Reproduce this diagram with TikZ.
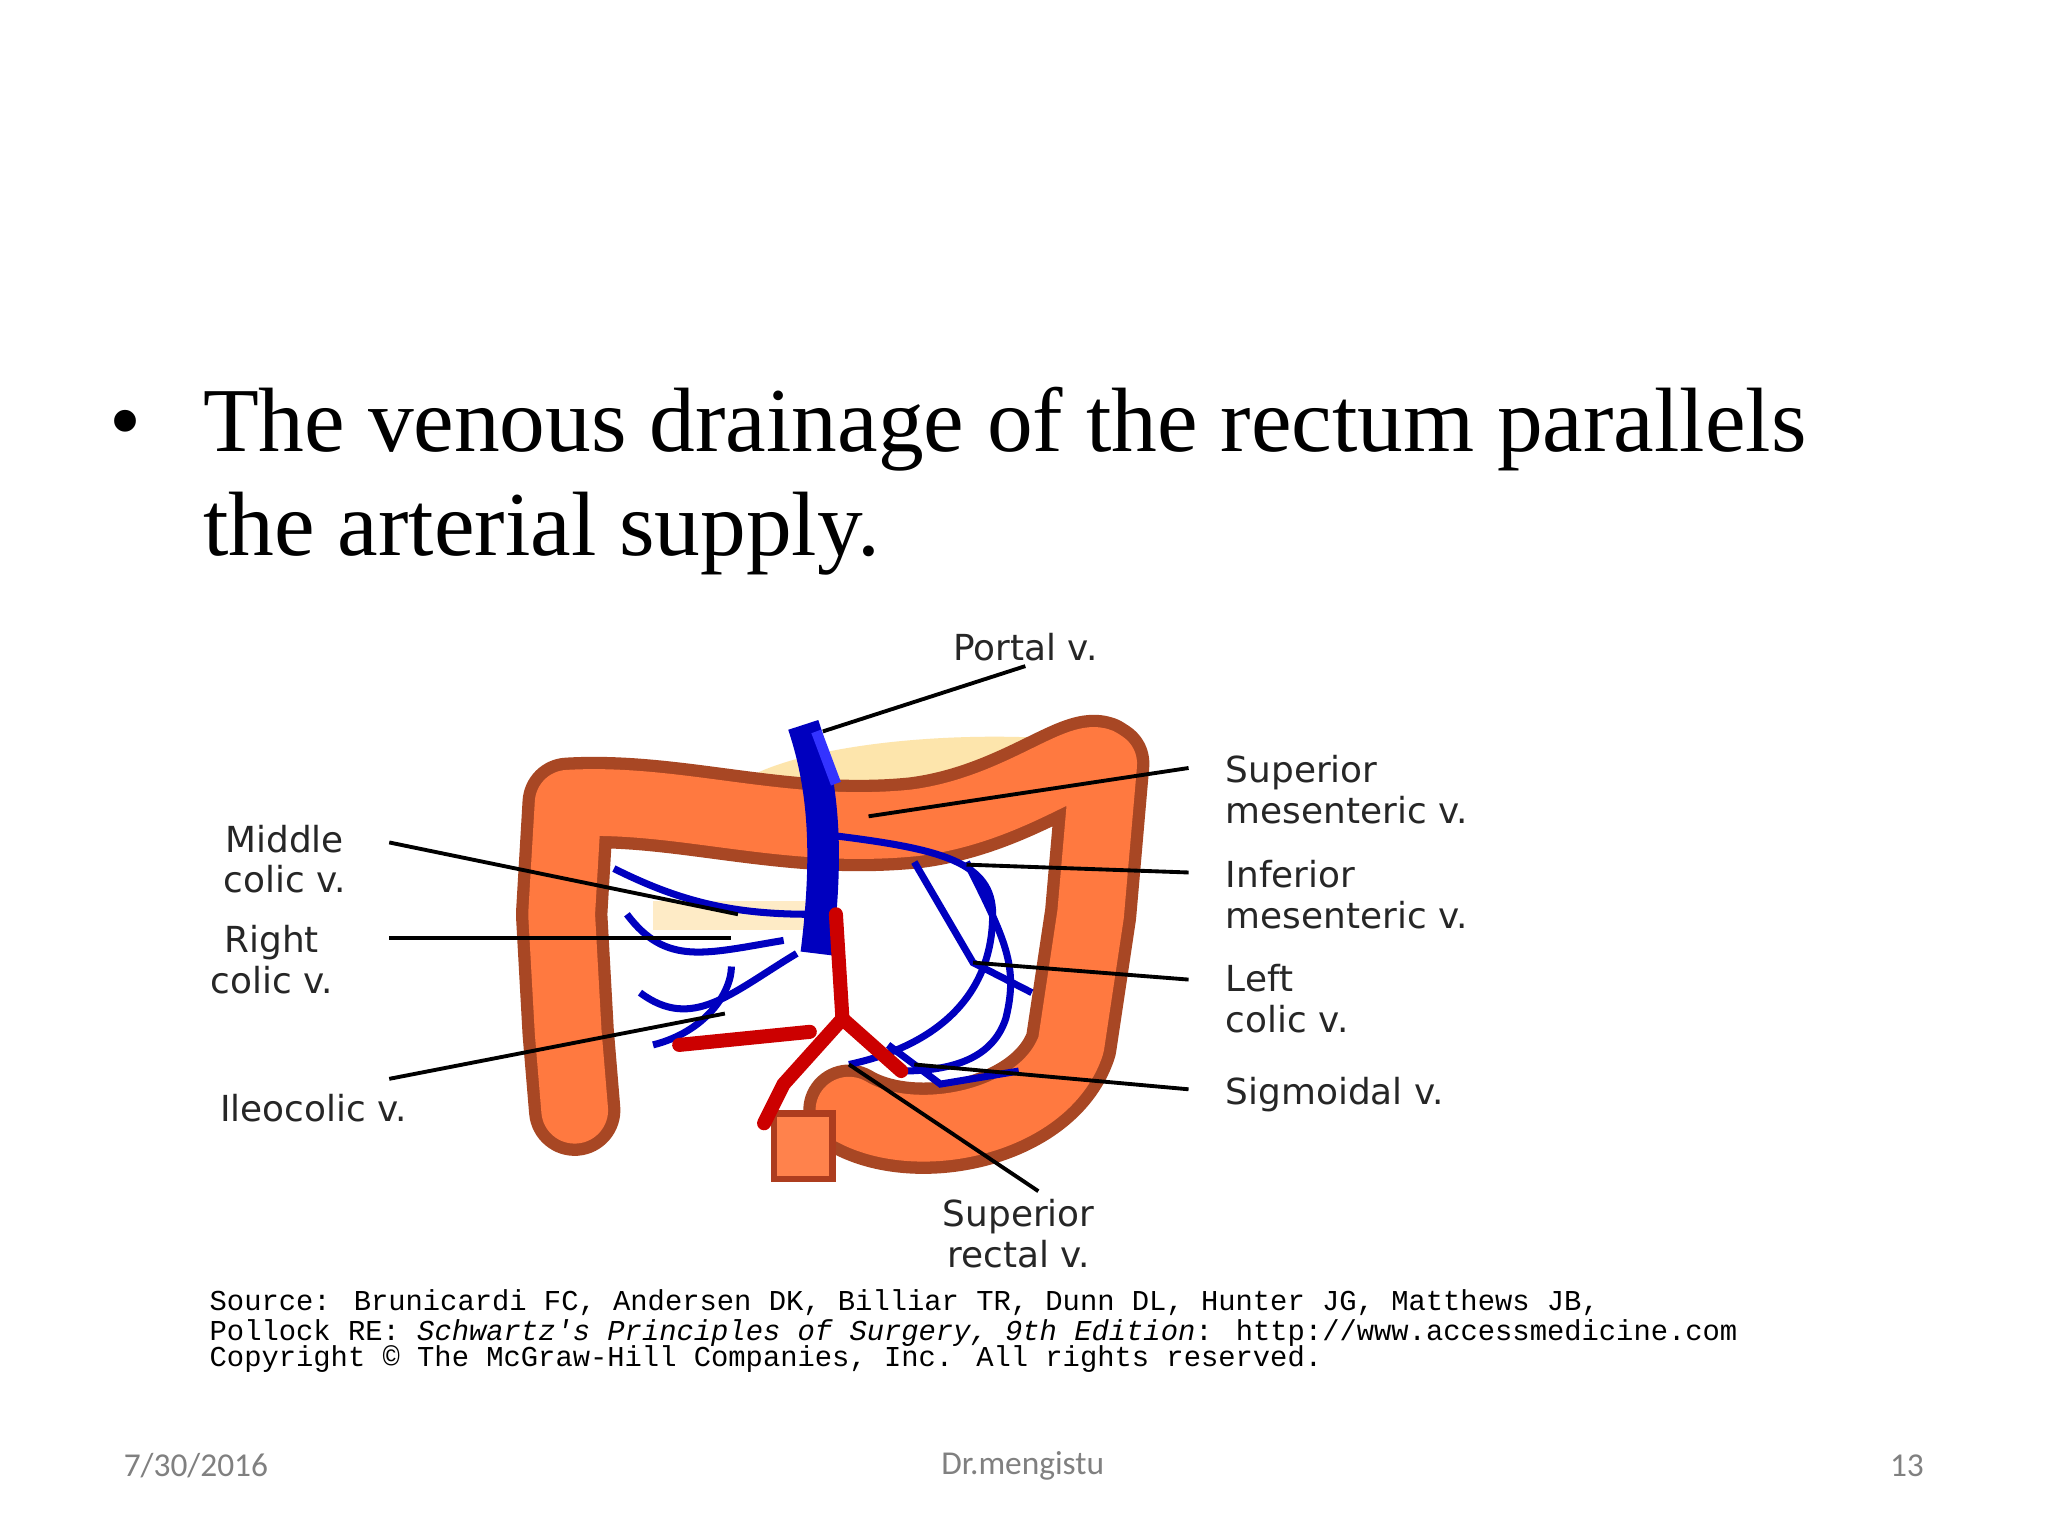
\documentclass[tikz,border=0pt]{standalone}
\usepackage{fontspec}
\setmainfont{Liberation Serif}
\newfontfamily\lab{DejaVu Sans}
\newfontfamily\srcf{Liberation Mono}
\newfontfamily\foot{Carlito}
\begin{document}
\begin{tikzpicture}[x=0.01306cm,y=-0.01306cm,
  lbl/.style={font=\lab\fontsize{10.2}{11.6}\selectfont,text=black!85,align=left,inner sep=0,anchor=north west},
  lead/.style={draw=black,line width=1.1pt},
  colon/.style={draw=brown!70!red!80!black,line width=26pt,line cap=round,line join=round},
  coloninner/.style={draw=orange!60!red!75!white,line width=19pt,line cap=round,line join=round},
  vein/.style={draw=blue!75!black,line width=2pt},
  art/.style={draw=red!80!black,line width=4pt,line cap=round}]
\useasboundingbox[fill=white] (0,0) rectangle (1568,1176);
% title
\node[anchor=north west,inner sep=0,align=left,font=\fontsize{26}{29.5}\selectfont] (title) at (155,296)
 {\llap{\textbullet\hspace{0.62cm}}The venous drainage of the rectum parallels\\the arterial supply.};
% pancreas
\fill[yellow!40!orange!30] (565,600) .. controls (600,575) and (700,560) .. (800,565) -- (800,600) .. controls (700,610) and (620,630) .. (570,640) -- cycle;
\fill[yellow!30!orange!20] (500,690) rectangle (640,712);
% colon
\draw[colon] (440,850) -- (435,790) -- (430,700) -- (435,615) .. controls (520,610) and (600,640) .. (700,630) .. controls (780,620) and (830,570) .. (845,585) -- (835,700) -- (820,800) .. controls (800,860) and (700,880) .. (650,850);
\draw[coloninner] (440,850) -- (435,790) -- (430,700) -- (435,615) .. controls (520,610) and (600,640) .. (700,630) .. controls (780,620) and (830,570) .. (845,585) -- (835,700) -- (820,800) .. controls (800,860) and (700,880) .. (650,850);
\fill[brown!60!red!80!black] (590,850) rectangle (640,905);
\fill[orange!60!red!70] (595,855) rectangle (635,900);
% veins
\draw[blue!75!black,line width=9pt] (615,555) .. controls (630,600) and (635,650) .. (625,730);
\draw[blue!80!white,line width=3pt] (625,560) -- (640,600);
\draw[vein] (470,665) .. controls (520,690) and (560,700) .. (620,700);
\draw[vein] (480,700) .. controls (510,740) and (540,730) .. (600,720);
\draw[vein] (490,760) .. controls (530,790) and (560,760) .. (610,730);
\draw[vein] (500,800) .. controls (540,790) and (560,760) .. (560,740);
\draw[vein] (640,640) .. controls (720,650) and (760,660) .. (760,700) .. controls (760,760) and (720,800) .. (650,815);
\draw[vein] (740,660) .. controls (770,720) and (780,740) .. (770,780) .. controls (760,810) and (730,820) .. (690,820);
\draw[vein] (700,660) -- (745,737) -- (790,760);
\draw[vein] (680,800) -- (720,830) -- (780,820);
% arteries
\draw[art] (640,700) -- (645,780) -- (600,830) -- (585,860);
\draw[art] (645,780) -- (690,820);
\draw[art] (620,790) -- (520,800);
% labels
\node[lbl,anchor=north] (portal) at (785,484) {Portal v.};
\node[lbl] (smv) at (938,578) {Superior\\mesenteric v.};
\node[lbl] (imv) at (938,658) {Inferior\\mesenteric v.};
\node[lbl] (lcv) at (938,738) {Left\\colic v.};
\node[lbl] (sig) at (938,824) {Sigmoidal v.};
\node[lbl,align=center,anchor=north] (srv) at (780,918) {Superior\\rectal v.};
\node[lbl,align=center,anchor=north] (mcv) at (218,631) {Middle\\colic v.};
\node[lbl,align=center,anchor=north] (rcv) at (208,708) {Right\\colic v.};
\node[lbl] (icv) at (168,837) {Ileocolic v.};
\coordinate (pe) at (630,560);
\coordinate (se) at (665,625);
\coordinate (ie) at (740,662);
\coordinate (le) at (745,737);
\coordinate (ge) at (700,815);
\coordinate (re) at (650,815);
\coordinate (me) at (565,700);
\coordinate (rce) at (560,718);
\coordinate (ice) at (555,776);
\draw[lead] (785,510) -- (pe);
\draw[lead] (910,588) -- (se);
\draw[lead] (910,668) -- (ie);
\draw[lead] (910,750) -- (le);
\draw[lead] (910,834) -- (ge);
\draw[lead] (795,912) -- (re);
\draw[lead] (298,645) -- (me);
\draw[lead] (298,718) -- (rce);
\draw[lead] (298,826) -- (ice);
% source
\node[anchor=north west,inner sep=0,align=left,font=\srcf\fontsize{8.2}{7.2}\selectfont] (src) at (160,987)
 {Source: Brunicardi FC, Andersen DK, Billiar TR, Dunn DL, Hunter JG, Matthews JB,\\
 Pollock RE: \textit{Schwartz's Principles of Surgery, 9th Edition}: http://www.accessmedicine.com};
\node[anchor=north west,inner sep=0,font=\srcf\fontsize{8.2}{8.4}\selectfont] (copy) at (160,1030)
 {Copyright \textcopyright{} The McGraw-Hill Companies, Inc. All rights reserved.};
% footer
\node[font=\foot\fontsize{9.5}{11}\selectfont,text=gray] (date) at (150,1122) {7/30/2016};
\node[font=\foot\fontsize{9.5}{11}\selectfont,text=gray] (auth) at (783,1122) {Dr.mengistu};
\node[font=\foot\fontsize{9.5}{11}\selectfont,text=gray] (num) at (1460,1122) {13};
\end{tikzpicture}
\end{document}
